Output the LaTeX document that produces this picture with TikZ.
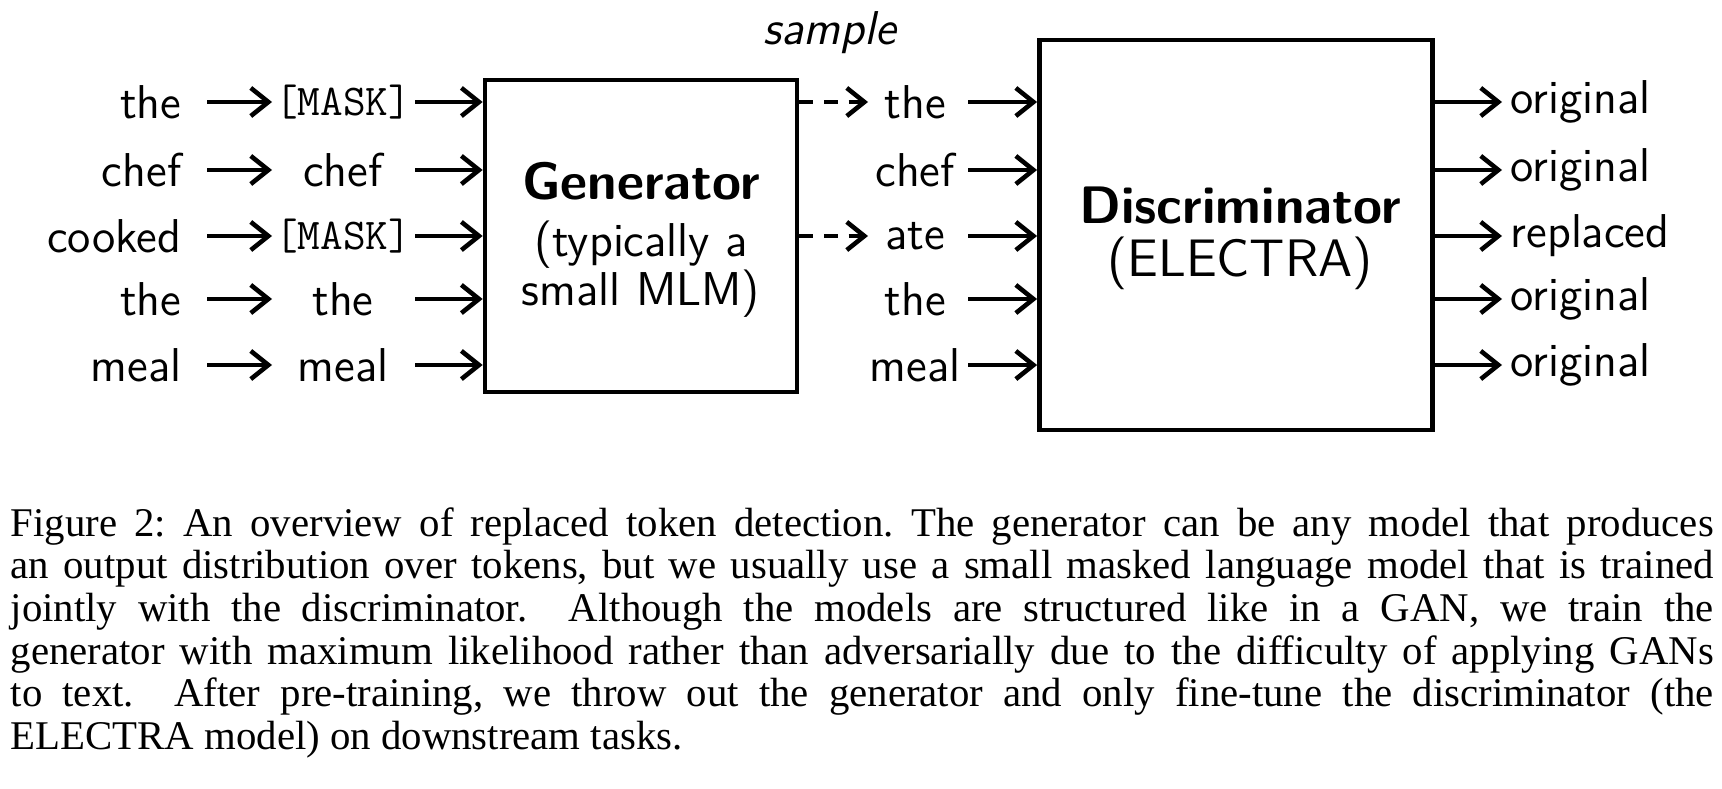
\documentclass[tikz,border=0pt]{standalone}
\usepackage{fontspec}
\newfontfamily\capfont{Liberation Serif}
\usetikzlibrary{arrows.meta}
\begin{document}
\begin{tikzpicture}[x=0.01cm,y=-0.01cm,
  w/.style={font=\sffamily\fontsize{13.5}{15}\selectfont,inner sep=0pt},
  box/.style={draw,line width=1.3pt,inner sep=0pt},
  ar/.style={-{Straight Barb[length=5pt,width=8pt]},line width=1.3pt},
  da/.style={ar,dashed,dash pattern=on 4pt off 3pt}]
\useasboundingbox (0,0) rectangle (1722,788);
\node[box,minimum width=3.12cm,minimum height=3.12cm] (G) at (641,236) {};
\node[align=center,font=\sffamily\fontsize{13.5}{16}\selectfont] at (641,240) {{\bfseries\fontsize{15}{17}\selectfont Generator}\\[0pt](typically a\\[-2pt]small MLM)};
\node[box,minimum width=3.93cm,minimum height=3.9cm] (D) at (1236,235) {};
\node[align=center,font=\sffamily\fontsize{15}{17}\selectfont] at (1240,238) {{\bfseries Discriminator}\\[-2pt](ELECTRA)};
\node[w,font=\sffamily\itshape\fontsize{13.5}{15}\selectfont] (s) at (830,33) {sample};
\foreach \i/\y/\a/\b/\c/\o in {1/102/the/{\fontsize{12.5}{14}\selectfont\texttt{[MASK]}}/the/original,2/170/chef/chef/chef/original,3/236/cooked/{\fontsize{12.5}{14}\selectfont\texttt{[MASK]}}/ate/replaced,4/299/the/the/the/original,5/365/meal/meal/meal/original}{
  \node[w,anchor=east] (a\i) at (182,\y) {\a};
  \node[w] (b\i) at (343,\y) {\b};
  \node[w] (c\i) at (915,\y) {\c};
  \node[w,anchor=west] (o\i) at (1510,\y) {\o};
  \coordinate (p\i) at (207,\y); \coordinate (q\i) at (272,\y);
  \coordinate (r\i) at (415,\y); \coordinate (s\i) at (G.west|-0,\y);
  \coordinate (t\i) at (968,\y); \coordinate (u\i) at (D.west|-0,\y);
  \coordinate (v\i) at (D.east|-0,\y); \coordinate (z\i) at (1502,\y);
  \draw[ar] (p\i) -- (q\i);
  \draw[ar] (r\i) -- (s\i);
  \draw[ar] (t\i) -- (u\i);
  \draw[ar] (v\i) -- (z\i);
}
\coordinate (g1) at (G.east|-0,102); \coordinate (h1) at (868,102);
\coordinate (g3) at (G.east|-0,236); \coordinate (h3) at (868,236);
\draw[da] (g1) -- (h1);
\draw[da] (g3) -- (h3);
\node[anchor=north west,inner sep=0pt,text width=17.02cm,align=justify,font=\capfont\fontsize{11.6}{12.1}\selectfont\frenchspacing] (cap) at (10,507) {Figure 2: An overview of replaced token detection. The generator can be any model that produces\linebreak an output distribution over tokens, but we usually use a small masked language model that is trained\linebreak jointly with the discriminator.\ \ Although the models are structured like in a GAN, we train the\linebreak generator with maximum likelihood rather than adversarially due to the difficulty of applying GANs\linebreak to text.\ \ After pre-training, we throw out the generator and only fine-tune the discriminator (the\linebreak ELECTRA model) on downstream tasks.};
\end{tikzpicture}
\end{document}
